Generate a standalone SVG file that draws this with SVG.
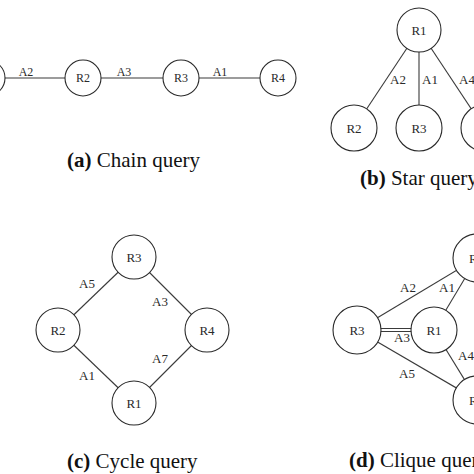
<svg xmlns="http://www.w3.org/2000/svg" width="474" height="474" viewBox="0 0 474 474">
<style>
.n{fill:#fff;stroke:#2a2a2a;stroke-width:1.1}
.e{stroke:#3a3a3a;stroke-width:1.1;fill:none}
.t{font-family:"Liberation Serif","Times New Roman",serif;fill:#2a2a2a;text-anchor:middle}
.s{font-size:12px}
.m{font-size:13px}
.cap{font-family:"Liberation Serif","Times New Roman",serif;font-size:21px;fill:#111}
</style>
<rect width="474" height="474" fill="#fff"/>
<g id="connectors">
  <!-- chain -->
  <line class="e" x1="5" y1="78" x2="65" y2="78"/>
  <line class="e" x1="101" y1="78" x2="163" y2="78"/>
  <line class="e" x1="199" y1="78" x2="260" y2="78"/>
  <!-- star -->
  <line class="e" x1="419" y1="30" x2="354" y2="128"/>
  <line class="e" x1="419" y1="30" x2="419" y2="128"/>
  <line class="e" x1="419" y1="30" x2="484" y2="128"/>
  <!-- cycle -->
  <line class="e" x1="134" y1="257" x2="58" y2="330"/>
  <line class="e" x1="134" y1="257" x2="207" y2="330"/>
  <line class="e" x1="58" y1="330" x2="134" y2="403"/>
  <line class="e" x1="207" y1="330" x2="134" y2="403"/>
  <!-- clique -->
  <line class="e" x1="357" y1="330" x2="477" y2="258"/>
  <line class="e" x1="357" y1="328.5" x2="434" y2="328.5"/>
  <line class="e" x1="357" y1="331.5" x2="434" y2="331.5"/>
  <line class="e" x1="357" y1="330" x2="477" y2="400"/>
  <line class="e" x1="434" y1="330" x2="477" y2="258"/>
  <line class="e" x1="434" y1="330" x2="477" y2="400"/>
  <!-- edge labels -->
  <text class="t s" x="26" y="76">A2</text>
  <text class="t s" x="124" y="76">A3</text>
  <text class="t s" x="220" y="76">A1</text>
  <text class="t m" x="398" y="84">A2</text>
  <text class="t m" x="430" y="84">A1</text>
  <text class="t m" x="467" y="84">A4</text>
  <text class="t m" x="87" y="288">A5</text>
  <text class="t m" x="160" y="306">A3</text>
  <text class="t m" x="160" y="363">A7</text>
  <text class="t m" x="87" y="380">A1</text>
  <text class="t m" x="408" y="292">A2</text>
  <text class="t m" x="447" y="292">A1</text>
  <text class="t m" x="402" y="342">A3</text>
  <text class="t m" x="466" y="360">A4</text>
  <text class="t m" x="407" y="378">A5</text>
</g>
<g id="chain-R1"><circle class="n" cx="-13" cy="78" r="18"/></g>
<g id="chain-R2"><circle class="n" cx="83" cy="78" r="18"/><text class="t s" x="83" y="82">R2</text></g>
<g id="chain-R3"><circle class="n" cx="181" cy="78" r="18"/><text class="t s" x="181" y="82">R3</text></g>
<g id="chain-R4"><circle class="n" cx="278" cy="78" r="18"/><text class="t s" x="278" y="82">R4</text></g>
<g id="star-R1"><circle class="n" cx="419" cy="30" r="22"/><text class="t m" x="419" y="35">R1</text></g>
<g id="star-R2"><circle class="n" cx="354" cy="128" r="23"/><text class="t m" x="354" y="133">R2</text></g>
<g id="star-R3"><circle class="n" cx="419" cy="128" r="23"/><text class="t m" x="419" y="133">R3</text></g>
<g id="star-R4"><circle class="n" cx="484" cy="128" r="23"/></g>
<g id="cycle-R3"><circle class="n" cx="134" cy="257" r="22"/><text class="t m" x="134" y="262">R3</text></g>
<g id="cycle-R2"><circle class="n" cx="58" cy="330" r="22"/><text class="t m" x="58" y="335">R2</text></g>
<g id="cycle-R4"><circle class="n" cx="207" cy="330" r="22"/><text class="t m" x="207" y="335">R4</text></g>
<g id="cycle-R1"><circle class="n" cx="134" cy="403" r="22"/><text class="t m" x="134" y="408">R1</text></g>
<g id="clique-R3"><circle class="n" cx="357" cy="330" r="24"/><text class="t m" x="357" y="335">R3</text></g>
<g id="clique-R1"><circle class="n" cx="434" cy="330" r="23"/><text class="t m" x="434" y="335">R1</text></g>
<g id="clique-R2"><circle class="n" cx="477" cy="258" r="24"/><text class="t m" x="469" y="263" style="text-anchor:start">R2</text></g>
<g id="clique-R4"><circle class="n" cx="477" cy="400" r="24"/><text class="t m" x="469" y="405" style="text-anchor:start">R4</text></g>
<g id="captions">
  <text class="cap" x="67" y="167"><tspan font-weight="bold">(a)</tspan> Chain query</text>
  <text class="cap" x="360" y="185"><tspan font-weight="bold">(b)</tspan> Star query</text>
  <text class="cap" x="67" y="468"><tspan font-weight="bold">(c)</tspan> Cycle query</text>
  <text class="cap" x="349" y="467"><tspan font-weight="bold">(d)</tspan> Clique query</text>
</g>
</svg>
